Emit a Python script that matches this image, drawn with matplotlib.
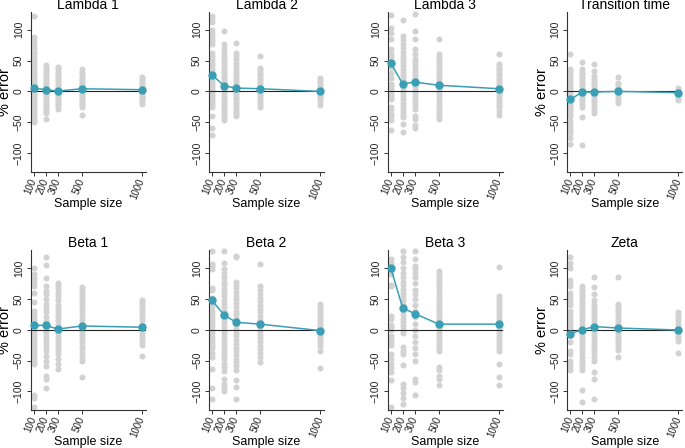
import numpy as np
import matplotlib.pyplot as plt

plt.rcParams['font.family'] = ['Liberation Sans', 'DejaVu Sans']

# sample sizes on the x axis
sample_sizes = [100, 200, 300, 500, 1000]
titles = ['Lambda 1', 'Lambda 2', 'Lambda 3', 'Transition time',
          'Beta 1', 'Beta 2', 'Beta 3', 'Zeta']

# % error of each replicate (gray dots), one list per sample size
lambda1_pts = [
    [122, 88, 83, 77, 70, 64, 60, 55, 50, 44, 38, 33, 28, 24, 20, 16, 12, 8, 5, 2,
     -2, -5, -8, -12, -15, -20, -25, -28, -33, -38, -42, -46, -50],
    [42, 38, 35, 31, 28, 24, 20, 17, 14, 10, 7, 4, 1, -2, -5, -8, -12, -15, -18,
     -22, -25, -28, -32, -35, -45],
    [40, 36, 32, 28, 25, 21, 18, 15, 12, 9, 6, 3, 0, -3, -6, -9, -12, -15, -18, -21,
     -24, -28],
    [37, 32, 28, 24, 20, 17, 14, 11, 8, 5, 2, -1, -4, -7, -10, -13, -16, -19, -22,
     -25, -38],
    [23, 20, 17, 14, 11, 8, 5, 2, -1, -4, -7, -10, -13, -16, -20],
]
lambda2_pts = [
    [122, 118, 113, 100, 95, 88, 82, 76, 62, 57, 52, 47, 42, 37, 32, 28, 24, 20, 16,
     12, 8, 4, 0, -4, -8, -12, -16, -20, -25, -40, -60, -70],
    [97, 76, 70, 63, 57, 52, 47, 42, 37, 33, 29, 25, 21, 17, 13, 9, 5, 1, -3, -7,
     -11, -15, -19, -23, -27, -31, -35, -39, -43, -47],
    [79, 62, 57, 52, 46, 41, 36, 31, 27, 23, 19, 15, 11, 7, 3, -1, -5, -9, -13, -17,
     -21, -25, -29, -33, -37, -40],
    [57, 38, 34, 30, 26, 22, 18, 14, 10, 6, 2, -2, -6, -10, -14, -18, -22, -25],
    [21, 18, 15, 12, 9, 6, 3, 0, -3, -6, -9, -12, -15, -22],
]
lambda3_pts = [
    [123, 103, 94, 85, 69, 61, 55, 48, 39, 29, 22, 12, 8, 4, -4, -9, -13, -25, -29,
     -36, -40, -47, -63],
    [116, 90, 83, 76, 70, 64, 58, 52, 47, 42, 37, 32, 27, 22, 17, 12, 7, 2, -3, -8,
     -13, -18, -23, -28, -33, -38, -42, -52, -65],
    [125, 97, 85, 68, 60, 53, 47, 42, 37, 32, 27, 22, 17, 12, 7, 2, -3, -8, -13, -18,
     -23, -28, -40, -45, -55, -60],
    [84, 60, 56, 52, 48, 44, 40, 35, 30, 25, 20, 15, 10, 5, 0, -5, -10, -15, -20,
     -25, -30, -35, -40, -45],
    [60, 45, 42, 38, 34, 30, 26, 22, 18, 14, 10, 6, 2, -2, -6, -10, -14, -18, -22,
     -25, -32, -38],
]
transition_pts = [
    [60, 37, 33, 28, 22, 18, 14, 10, 6, 2, -2, -6, -10, -14, -18, -22, -26, -30, -35,
     -40, -48, -52, -57, -62, -67, -75, -85],
    [48, 36, 32, 28, 24, 20, 16, 12, 8, 4, 0, -4, -8, -12, -16, -20, -25, -42, -86],
    [44, 33, 25, 20, 16, 12, 8, 4, 0, -4, -8, -12, -16, -20, -25, -30, -35],
    [24, 14, 10, 6, 2, -2, -6, -10, -14, -18],
    [5, 2, -2, -6, -10, -14],
]
beta1_pts = [
    [100, 90, 84, 78, 70, 60, 45, 30, 25, 20, 15, 10, 5, 0, -5, -10, -15, -20, -25,
     -30, -35, -40, -45, -50, -55, -105, -110, -125],
    [117, 105, 83, 70, 63, 57, 50, 42, 35, 28, 20, 14, 8, 2, -4, -10, -16, -22, -28,
     -35, -42, -50, -58, -75, -80, -95],
    [75, 71, 66, 60, 54, 48, 40, 35, 30, 25, 20, 15, 10, 5, 0, -5, -10, -15, -20, -25,
     -30, -35, -40, -47, -55, -63],
    [69, 65, 60, 55, 50, 45, 40, 34, 28, 22, 16, 10, 4, -2, -8, -14, -20, -26, -32,
     -38, -44, -50, -77],
    [48, 45, 40, 35, 30, 25, 20, 15, 10, 5, 0, -5, -10, -15, -20, -25, -42],
]
beta2_pts = [
    [127, 107, 103, 98, 68, 64, 52, 45, 38, 30, 24, 18, 12, 6, 0, -6, -12, -18, -24,
     -30, -38, -45, -63, -95, -112],
    [128, 108, 98, 92, 85, 78, 72, 66, 60, 54, 48, 42, 36, 30, 24, 18, 12, 6, 0, -6,
     -12, -18, -24, -30, -36, -42, -48, -55, -60, -67, -80, -88, -95, -100],
    [120, 117, 78, 73, 67, 61, 55, 49, 43, 37, 31, 25, 19, 13, 7, 1, -5, -11, -17,
     -23, -29, -35, -41, -47, -53, -59, -65, -82, -93, -112],
    [107, 70, 64, 58, 52, 46, 40, 34, 28, 22, 16, 10, 4, -2, -8, -14, -20, -26, -32,
     -38, -45, -53],
    [42, 38, 34, 30, 26, 22, 18, 14, 10, 6, 2, -2, -6, -10, -14, -18, -22, -27, -35,
     -62],
]
beta3_pts = [
    [115, 108, 100, 95, 90, 72, 70, 22, 18, 8, 5, 0, -10, -15, -20, -25, -40, -48,
     -55, -62, -68, -82, -125],
    [128, 118, 110, 100, 92, 85, 78, 72, 66, 60, 54, 48, 42, 36, 30, 24, 18, 12, 6,
     0, -5, -28, -35, -40, -57, -88, -95, -103, -110, -120],
    [128, 115, 103, 98, 92, 85, 75, 65, 58, 50, 40, 30, 20, 10, 0, -10, -20, -30,
     -40, -50, -80, -85, -105],
    [95, 90, 85, 80, 75, 70, 65, 60, 55, 50, 45, 40, 35, 30, 25, 20, 15, 10, 5, 0,
     -5, -10, -15, -20, -25, -30, -35, -60, -65, -75, -80, -90],
    [101, 55, 50, 45, 40, 35, 30, 25, 20, 15, 10, 5, 0, -5, -10, -15, -20, -25, -30,
     -35, -55, -77, -90],
]
zeta_pts = [
    [118, 108, 100, 80, 75, 70, 60, 55, 50, 45, 40, 30, 25, 20, 15, 10, 5, 0, -5,
     -10, -20, -35, -40, -50, -55, -60, -65],
    [70, 66, 62, 58, 54, 50, 45, 40, 35, 30, 25, 20, 15, 10, 5, 0, -5, -10, -15, -20,
     -25, -30, -35, -40, -45, -50, -55, -60, -66, -97, -117],
    [86, 69, 57, 48, 42, 37, 32, 27, 22, 17, 12, 7, 2, -3, -8, -13, -18, -23, -28,
     -33, -38, -44, -50, -68, -80, -112],
    [85, 42, 38, 34, 30, 26, 22, 18, 14, 10, 6, 2, -2, -6, -10, -14, -18, -22, -26,
     -30, -33, -45],
    [28, 25, 20, 15, 10, 5, 0, -5, -10, -14, -18, -38],
]

# mean % error (blue line)
lambda1_mean = [5.5, 2.7, 0.5, 4.3, 2.7]
lambda2_mean = [27, 9, 5.4, 4.3, 0]
lambda3_mean = [46, 12, 15, 10, 4.3]
transition_mean = [-13, -1, -1, 0, -2]
beta1_mean = [7, 7, 1, 6, 4]
beta2_mean = [47.5, 24, 12, 9, -1.5]
beta3_mean = [100, 35, 26, 9, 9]
zeta_mean = [-6.5, 0, 5, 2.7, -0.5]

all_pts = [lambda1_pts, lambda2_pts, lambda3_pts, transition_pts,
           beta1_pts, beta2_pts, beta3_pts, zeta_pts]
all_means = [lambda1_mean, lambda2_mean, lambda3_mean, transition_mean,
             beta1_mean, beta2_mean, beta3_mean, zeta_mean]

gray = '#d2d2d2'
blue = '#3a9fb5'
W, H = 685, 448

fig = plt.figure(figsize=(W / 100, H / 100), dpi=100)

lefts = [30.7, 209, 387.7, 567.3]
tops = [11.7, 250]
aw, ah = 115, 160

for i, (title, pts, mean) in enumerate(zip(titles, all_pts, all_means)):
    r, c = divmod(i, 4)
    ax = fig.add_axes([lefts[c] / W, 1 - (tops[r] + ah) / H, aw / W, ah / H])

    for x, vals in zip(sample_sizes, pts):
        ax.scatter([x] * len(vals), vals, s=19, color=gray, linewidths=0, zorder=1,
                   clip_on=False)
    ax.axhline(0, color='#222222', lw=0.8, zorder=2)
    ax.plot(sample_sizes, mean, color=blue, lw=1.1, marker='o', ms=5, zorder=3,
            clip_on=False)

    ax.set_xlim(75, 1032)
    ax.set_ylim(-130, 129)
    ax.set_xticks(sample_sizes)
    ax.set_xticklabels([str(s) for s in sample_sizes], rotation=68, ha='right',
                       va='center', rotation_mode='anchor', fontsize=7)
    ax.set_yticks([-100, -50, 0, 50, 100])
    ax.set_yticklabels(['\u2212100', '\u221250', '0', '50', '100'], rotation=90,
                       va='center', fontsize=7.5)
    ax.tick_params(length=3, width=0.7, pad=2, colors='#333333', labelcolor='#222222')
    for side in ['top', 'right']:
        ax.spines[side].set_visible(False)
    for side in ['left', 'bottom']:
        ax.spines[side].set_linewidth(0.8)
        ax.spines[side].set_color('#333333')

    ax.set_title(title, fontsize=10, pad=0.5)
    ax.set_xlabel('Sample size', fontsize=9, va='top')
    ax.xaxis.set_label_coords(0.5, -0.165)
    if c in (0, 3):
        ax.set_ylabel('% error', fontsize=10.5, labelpad=1)

fig.savefig('out.png', dpi=100)
